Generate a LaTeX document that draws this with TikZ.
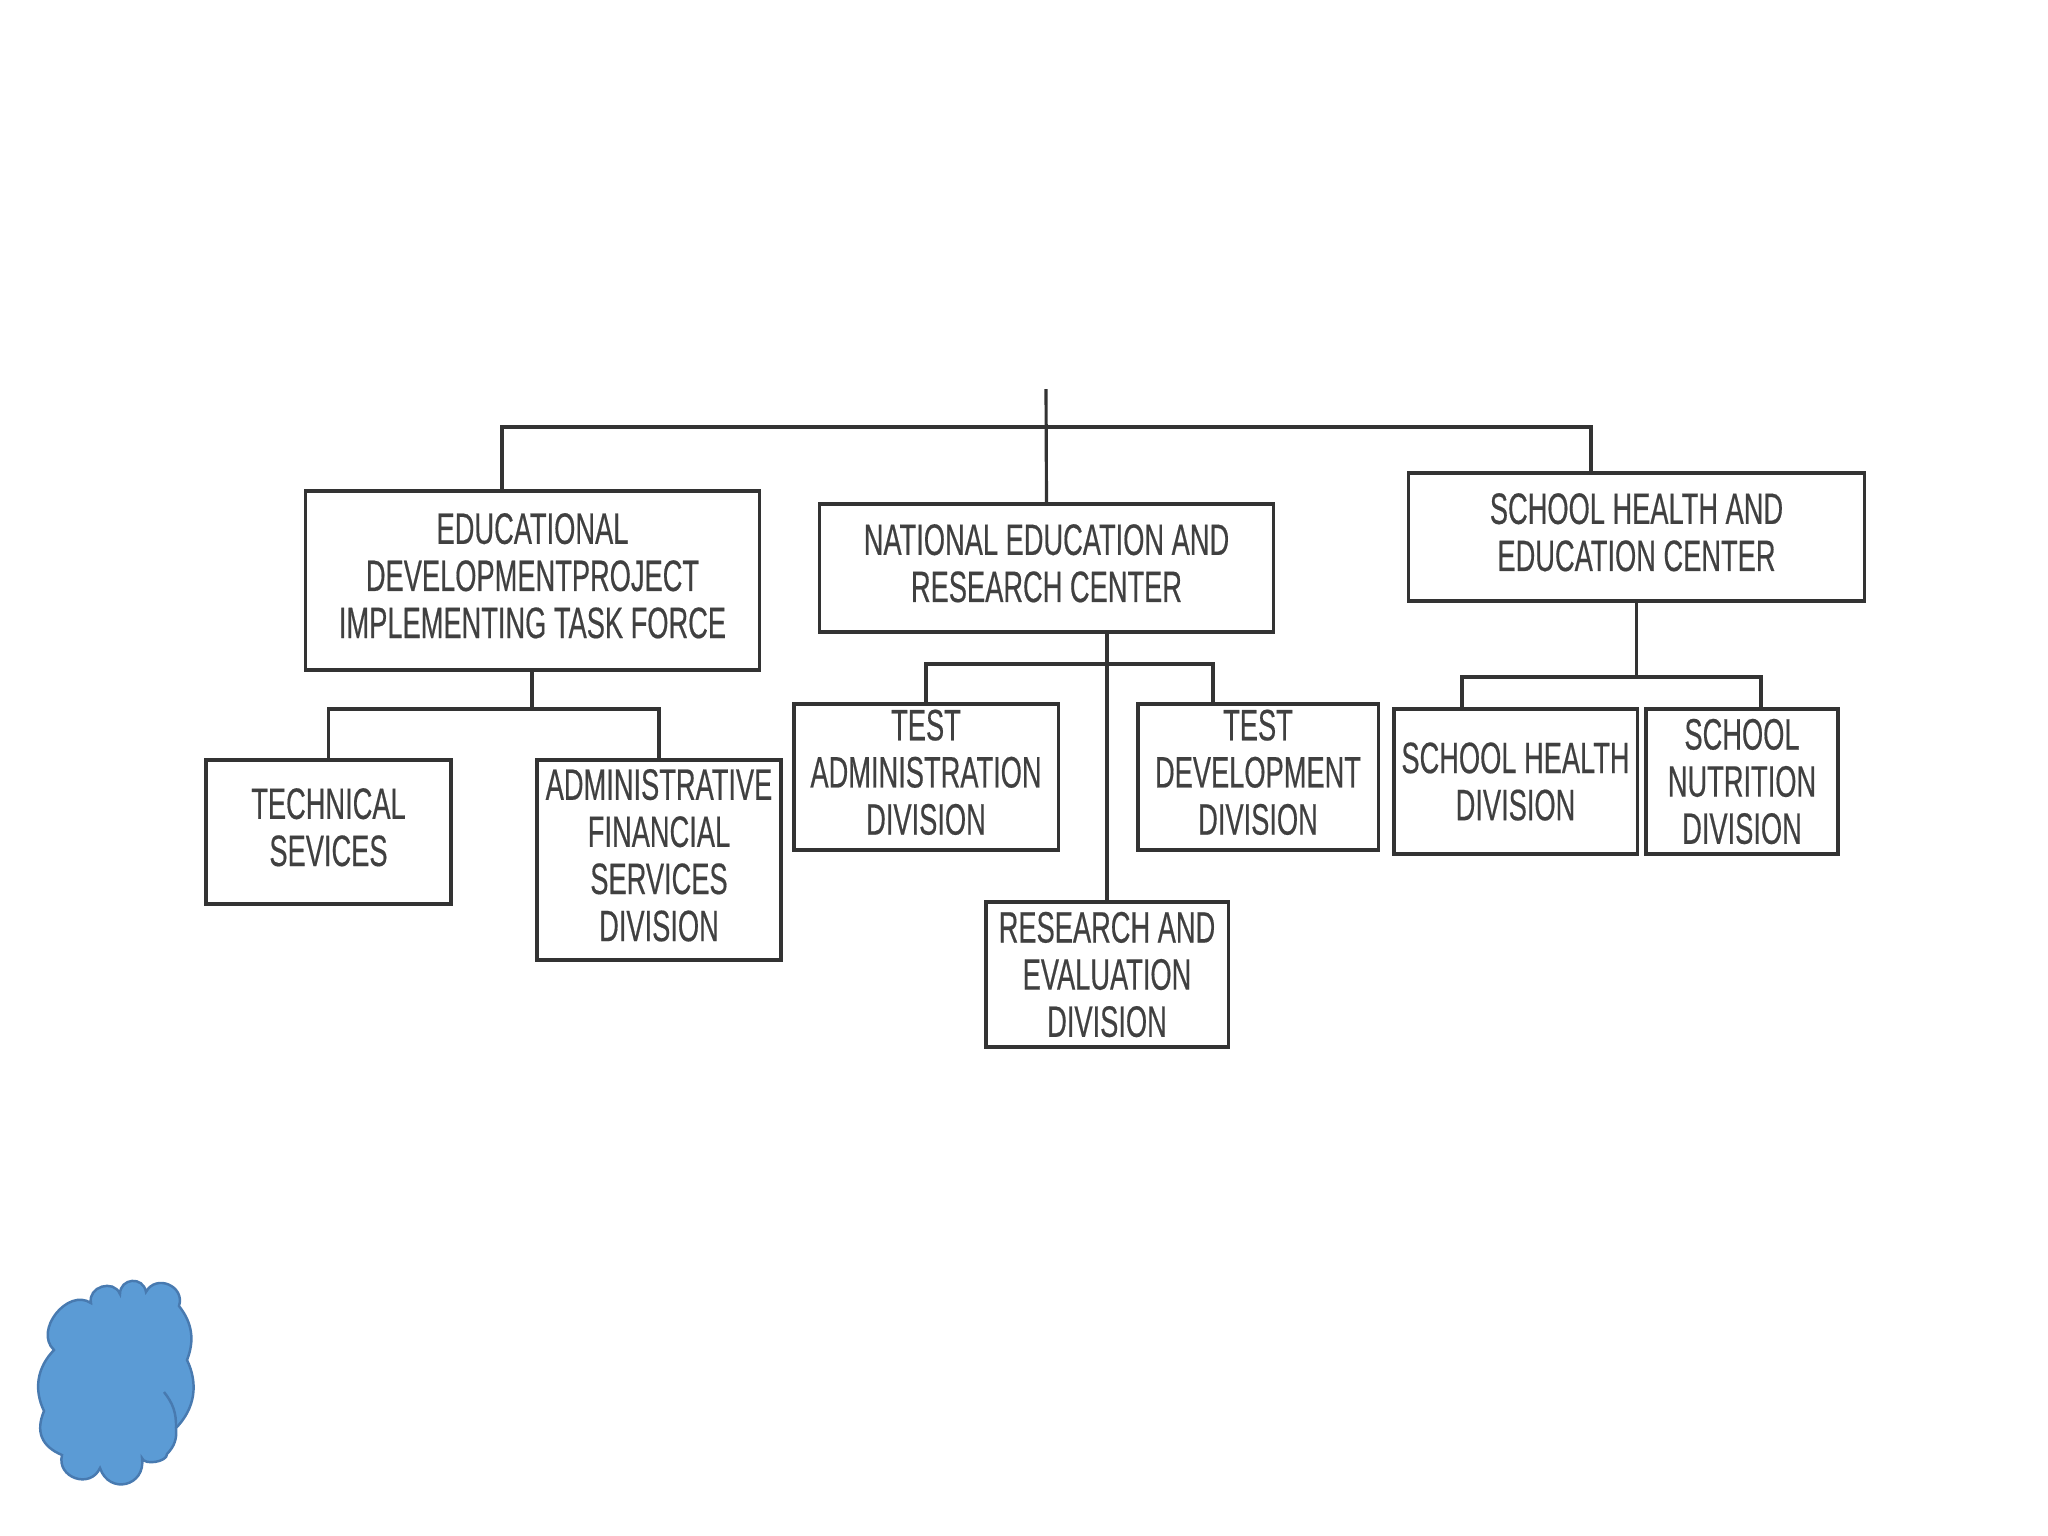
\documentclass[tikz,border=0pt]{standalone}
\usepackage{fontspec}
\setmainfont[FakeStretch=0.62,FakeBold=0.4]{Liberation Sans}
\newcommand{\lift}{\\[-10.6pt]\mbox{}}
\tikzset{
	unit/.style={draw=black!80, line width=0.9pt, inner sep=0pt, align=center, text=black!75,
		font=\fontsize{12.5}{13.4}\selectfont},
	link/.style={draw=black!80, line width=0.9pt},
	lobe/.style={bend left=85, looseness=#1}
}

\begin{document}
\begin{tikzpicture}[x=0.01cm, y=-0.01cm]
	\useasboundingbox (0,0) rectangle (2048,1536);
	\begin{scope}
	  \node[unit, minimum width=4.53cm, minimum height=1.79cm] (edu) at (532.5,580.5) {EDUCATIONAL\\DEVELOPMENTPROJECT\\IMPLEMENTING TASK FORCE\lift};
	  \node[unit, minimum width=4.53cm, minimum height=1.28cm] (nat) at (1046.5,568) {NATIONAL EDUCATION AND\\RESEARCH CENTER\lift};
	  \node[unit, minimum width=4.55cm, minimum height=1.28cm] (she) at (1636.5,537) {SCHOOL HEALTH AND\\EDUCATION CENTER\lift};

	  \node[unit, minimum width=2.45cm, minimum height=1.44cm] (tech) at (328.5,832) {TECHNICAL\\SEVICES\lift};
	  \node[unit, minimum width=2.44cm, minimum height=2.00cm] (admin) at (659,860) {ADMINISTRATIVE\\FINANCIAL\\SERVICES\\DIVISION\lift};

	  \node[unit, minimum width=2.64cm, minimum height=1.46cm] (testadm) at (926,777) {TEST\\ADMINISTRATION\\DIVISION\lift};
	  \node[unit, minimum width=2.40cm, minimum height=1.46cm] (testdev) at (1258,777) {TEST\\DEVELOPMENT\\DIVISION\lift};
	  \node[unit, minimum width=2.42cm, minimum height=1.45cm] (resev) at (1107,974.5) {RESEARCH AND\\EVALUATION\\DIVISION};

	  \node[unit, minimum width=2.43cm, minimum height=1.45cm] (health) at (1515.5,781.5) {SCHOOL HEALTH\\DIVISION};
	  \node[unit, minimum width=1.92cm, minimum height=1.45cm] (nutri) at (1742,781.5) {SCHOOL\\NUTRITION\\DIVISION};

	  \coordinate (topend) at (1046,389);
	  \coordinate (busl) at (502,427);
	  \coordinate (busr) at (1591,427);
	  \coordinate (edubus) at (532,709);
	  \coordinate (natl) at (926,664);
	  \coordinate (natr) at (1213,664);
	  \coordinate (shel) at (1462,677);
	  \coordinate (sher) at (1761,677);

	  \draw[link] (topend) -- (nat.north);
	  \draw[link] (edu.north -| busl) -- (busl) -- (busr) -- (she.north -| busr);

	  \draw[link] (edu.south -| edubus) -- (edubus);
	  \draw[link] (tech.north) |- (edubus) -| (admin.north);

	  \draw[link] (nat.south -| resev.north) -- (resev.north);
	  \draw[link] (testadm.north) -- (natl) -- (natr) -- (testdev.north -| natr);

	  \draw[link] (she.south) -- (she.south |- shel);
	  \draw[link] (health.north -| shel) -- (shel) -- (sher) -- (nutri.north -| sher);

	  \filldraw [fill={rgb,255:red,91;green,155;blue,213}, draw={rgb,255:red,72;green,122;blue,176}, line width=0.7pt]
	    (54,1350) to[lobe=1.2] (91,1303) to[lobe=1.4] (120,1294) to[lobe=1.6] (146,1292)
	    to[lobe=1.5] (179,1306) to[bend left=30] (187,1360) to[bend left=35] (176,1428)
	    to[bend left=25] (167,1454) to[lobe=0.8] (142,1458) to[lobe=1.7] (100,1468)
	    to[lobe=1.5] (62,1455) to[bend left=45, looseness=1.2] (44,1411) to[bend left=35] cycle;
	  \draw [draw={rgb,255:red,72;green,122;blue,176}, line width=0.7pt] (164,1392) to[bend left=20] (176,1428);
	\end{scope}
\end{tikzpicture}
\end{document}
